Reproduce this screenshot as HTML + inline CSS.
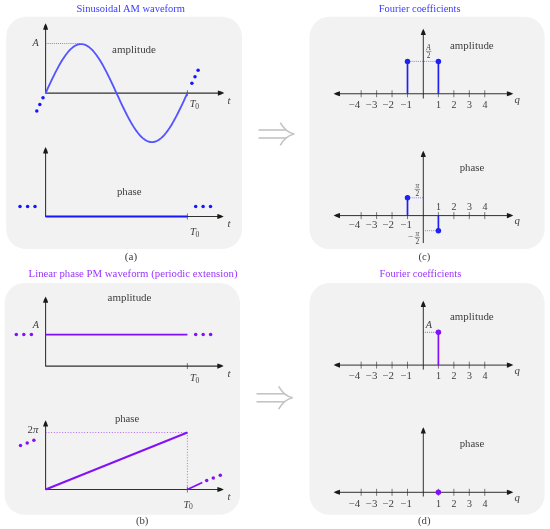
<!DOCTYPE html><html><head><meta charset="utf-8"><style>html,body{margin:0;padding:0;background:#fff}svg{display:block}</style></head><body><svg width="550" height="529" viewBox="0 0 550 529" font-family='"Liberation Serif", serif'><rect width="550" height="529" fill="#fff"/><rect x="6.2" y="16.8" width="235.8" height="232.3" rx="20" fill="#f2f2f2"/><rect x="309.5" y="16.8" width="235.2" height="232.3" rx="20" fill="#f2f2f2"/><rect x="4.6" y="283.1" width="235.4" height="231.7" rx="20" fill="#f2f2f2"/><rect x="309.5" y="283.1" width="235.2" height="231.7" rx="20" fill="#f2f2f2"/><text x="76.5" y="11.5" font-size="10.5" fill="#3a3aff" text-anchor="start"  textLength="108.5" lengthAdjust="spacingAndGlyphs" >Sinusoidal AM waveform</text><text x="378.7" y="11.5" font-size="10.5" fill="#3a3aff" text-anchor="start"  textLength="81.8" lengthAdjust="spacingAndGlyphs" >Fourier coefficients</text><text x="28.6" y="277.4" font-size="10.5" fill="#9933ff" text-anchor="start"  textLength="209" lengthAdjust="spacingAndGlyphs" >Linear phase PM waveform (periodic extension)</text><text x="379.5" y="277.4" font-size="10.5" fill="#9933ff" text-anchor="start"  textLength="81.8" lengthAdjust="spacingAndGlyphs" >Fourier coefficients</text><text x="124.8" y="260.3" font-size="10.3" fill="#404040" text-anchor="start"  textLength="12.3" lengthAdjust="spacingAndGlyphs" >(a)</text><text x="418.4" y="260.3" font-size="10.3" fill="#404040" text-anchor="start"  textLength="11.8" lengthAdjust="spacingAndGlyphs" >(c)</text><text x="135.9" y="524" font-size="10.3" fill="#404040" text-anchor="start"  textLength="12.5" lengthAdjust="spacingAndGlyphs" >(b)</text><text x="418" y="523.5" font-size="10.3" fill="#404040" text-anchor="start"  textLength="12.6" lengthAdjust="spacingAndGlyphs" >(d)</text><path d="M45.6,27.3 V93.1 H220.3" fill="none" stroke="#303030" stroke-width="1.05" stroke-linejoin="round"/><path d="M45.6,23.3 Q43.775000000000006,26.5 43.050000000000004,29.700000000000003 L48.15,29.700000000000003 Q47.425,26.5 45.6,23.3 Z" fill="#1a1a1a"/><path d="M224.3,93.1 Q221.10000000000002,91.27499999999999 217.9,90.55 L217.9,95.64999999999999 Q221.10000000000002,94.925 224.3,93.1 Z" fill="#1a1a1a"/><line x1="187.4" y1="90.1" x2="187.4" y2="96.1" stroke="#262626" stroke-width="0.6" /><path d="M45.60,93.10 L46.78,90.54 L47.96,87.98 L49.15,85.43 L50.33,82.91 L51.51,80.42 L52.69,77.96 L53.87,75.54 L55.05,73.17 L56.23,70.85 L57.42,68.60 L58.60,66.41 L59.78,64.30 L60.96,62.26 L62.14,60.31 L63.33,58.45 L64.51,56.69 L65.69,55.02 L66.87,53.46 L68.05,52.01 L69.23,50.66 L70.42,49.44 L71.60,48.34 L72.78,47.35 L73.96,46.50 L75.14,45.77 L76.32,45.17 L77.51,44.70 L78.69,44.37 L79.87,44.17 L81.05,44.10 L82.23,44.17 L83.41,44.37 L84.59,44.70 L85.78,45.17 L86.96,45.77 L88.14,46.50 L89.32,47.35 L90.50,48.34 L91.69,49.44 L92.87,50.66 L94.05,52.01 L95.23,53.46 L96.41,55.02 L97.59,56.69 L98.78,58.45 L99.96,60.31 L101.14,62.26 L102.32,64.30 L103.50,66.41 L104.68,68.60 L105.87,70.85 L107.05,73.17 L108.23,75.54 L109.41,77.96 L110.59,80.42 L111.77,82.91 L112.96,85.43 L114.14,87.98 L115.32,90.54 L116.50,93.10 L117.68,95.66 L118.86,98.22 L120.05,100.77 L121.23,103.29 L122.41,105.78 L123.59,108.24 L124.77,110.66 L125.95,113.03 L127.13,115.35 L128.32,117.60 L129.50,119.79 L130.68,121.90 L131.86,123.94 L133.04,125.89 L134.22,127.75 L135.41,129.51 L136.59,131.18 L137.77,132.74 L138.95,134.19 L140.13,135.54 L141.32,136.76 L142.50,137.86 L143.68,138.85 L144.86,139.70 L146.04,140.43 L147.22,141.03 L148.41,141.50 L149.59,141.83 L150.77,142.03 L151.95,142.10 L153.13,142.03 L154.31,141.83 L155.50,141.50 L156.68,141.03 L157.86,140.43 L159.04,139.70 L160.22,138.85 L161.40,137.86 L162.59,136.76 L163.77,135.54 L164.95,134.19 L166.13,132.74 L167.31,131.18 L168.49,129.51 L169.68,127.75 L170.86,125.89 L172.04,123.94 L173.22,121.90 L174.40,119.79 L175.58,117.60 L176.77,115.35 L177.95,113.03 L179.13,110.66 L180.31,108.24 L181.49,105.78 L182.67,103.29 L183.85,100.77 L185.04,98.22 L186.22,95.66 L187.40,93.10" fill="none" stroke="#5555ff" stroke-width="1.85" stroke-linejoin="round"/><line x1="45.6" y1="43.5" x2="80" y2="43.5" stroke="#5555ff" stroke-width="0.8" stroke-dasharray="0.9,1.18"/><circle cx="43" cy="97.8" r="1.75" fill="#1515ff"/><circle cx="39.8" cy="104.4" r="1.75" fill="#1515ff"/><circle cx="36.8" cy="111" r="1.75" fill="#1515ff"/><circle cx="191.9" cy="83.3" r="1.75" fill="#1515ff"/><circle cx="195" cy="76.8" r="1.75" fill="#1515ff"/><circle cx="198.1" cy="70.3" r="1.75" fill="#1515ff"/><text x="35.5" y="45.6" font-size="10.2" fill="#404040" text-anchor="middle" font-style="italic"  >A</text><text x="112.1" y="52.6" font-size="10.2" fill="#404040" text-anchor="start"  textLength="43.9" lengthAdjust="spacingAndGlyphs" >amplitude</text><text x="189.7" y="107.3" font-size="10.5" fill="#404040" font-style="italic">T<tspan font-size="7.6" dy="1.7" dx="-0.3" font-style="normal">0</tspan></text><text x="229" y="104.3" font-size="10.8" fill="#404040" text-anchor="middle" font-style="italic"  >t</text><path d="M45.6,151 V216.5 H219.7" fill="none" stroke="#303030" stroke-width="1.05" stroke-linejoin="round"/><path d="M45.6,147 Q43.775000000000006,150.2 43.050000000000004,153.4 L48.15,153.4 Q47.425,150.2 45.6,147 Z" fill="#1a1a1a"/><path d="M223.7,216.5 Q220.5,214.67499999999998 217.29999999999998,213.95 L217.29999999999998,219.05 Q220.5,218.32500000000002 223.7,216.5 Z" fill="#1a1a1a"/><line x1="187.4" y1="213.5" x2="187.4" y2="219.5" stroke="#262626" stroke-width="0.6" /><line x1="45.6" y1="216.5" x2="187.4" y2="216.5" stroke="#1515ff" stroke-width="1.9" /><circle cx="20" cy="206.6" r="1.75" fill="#1515ff"/><circle cx="27.6" cy="206.6" r="1.75" fill="#1515ff"/><circle cx="35" cy="206.6" r="1.75" fill="#1515ff"/><circle cx="195.7" cy="206.6" r="1.75" fill="#1515ff"/><circle cx="203.1" cy="206.6" r="1.75" fill="#1515ff"/><circle cx="210.5" cy="206.6" r="1.75" fill="#1515ff"/><text x="116.9" y="195.2" font-size="10.2" fill="#404040" text-anchor="start"  textLength="24.6" lengthAdjust="spacingAndGlyphs" >phase</text><text x="189.9" y="234.9" font-size="10.5" fill="#404040" font-style="italic">T<tspan font-size="7.6" dy="1.7" dx="-0.3" font-style="normal">0</tspan></text><text x="229" y="227.2" font-size="10.8" fill="#404040" text-anchor="middle" font-style="italic"  >t</text><path d="M45.6,300.4 V366.1 H219.7" fill="none" stroke="#303030" stroke-width="1.05" stroke-linejoin="round"/><path d="M45.6,296.4 Q43.775000000000006,299.59999999999997 43.050000000000004,302.79999999999995 L48.15,302.79999999999995 Q47.425,299.59999999999997 45.6,296.4 Z" fill="#1a1a1a"/><path d="M223.7,366.1 Q220.5,364.27500000000003 217.29999999999998,363.55 L217.29999999999998,368.65000000000003 Q220.5,367.925 223.7,366.1 Z" fill="#1a1a1a"/><line x1="187.4" y1="363.1" x2="187.4" y2="369.1" stroke="#262626" stroke-width="0.6" /><line x1="45.6" y1="334.6" x2="187.4" y2="334.6" stroke="#8210f8" stroke-width="1.9" /><circle cx="16.3" cy="334.6" r="1.75" fill="#8210f8"/><circle cx="23.8" cy="334.6" r="1.75" fill="#8210f8"/><circle cx="31.4" cy="334.6" r="1.75" fill="#8210f8"/><circle cx="195.7" cy="334.6" r="1.75" fill="#8210f8"/><circle cx="203.2" cy="334.6" r="1.75" fill="#8210f8"/><circle cx="210.6" cy="334.6" r="1.75" fill="#8210f8"/><text x="35.8" y="327.5" font-size="10.2" fill="#404040" text-anchor="middle" font-style="italic"  >A</text><text x="107.6" y="300.8" font-size="10.2" fill="#404040" text-anchor="start"  textLength="43.9" lengthAdjust="spacingAndGlyphs" >amplitude</text><text x="189.9" y="380.8" font-size="10.5" fill="#404040" font-style="italic">T<tspan font-size="7.6" dy="1.7" dx="-0.3" font-style="normal">0</tspan></text><text x="229" y="376.9" font-size="10.8" fill="#404040" text-anchor="middle" font-style="italic"  >t</text><path d="M45.6,424.2 V489.5 H219.8" fill="none" stroke="#303030" stroke-width="1.05" stroke-linejoin="round"/><path d="M45.6,420.2 Q43.775000000000006,423.4 43.050000000000004,426.59999999999997 L48.15,426.59999999999997 Q47.425,423.4 45.6,420.2 Z" fill="#1a1a1a"/><path d="M223.8,489.5 Q220.60000000000002,487.675 217.4,486.95 L217.4,492.05 Q220.60000000000002,491.325 223.8,489.5 Z" fill="#1a1a1a"/><line x1="187.4" y1="486.5" x2="187.4" y2="492.5" stroke="#262626" stroke-width="0.6" /><line x1="45.6" y1="432.5" x2="187.4" y2="432.5" stroke="#8210f8" stroke-width="0.8" stroke-dasharray="1,1.76" stroke-opacity="0.75"/><line x1="187.4" y1="432.5" x2="187.4" y2="489.5" stroke="#8210f8" stroke-width="0.8" stroke-dasharray="1,1.76" stroke-opacity="0.75"/><line x1="45.6" y1="489.5" x2="187.4" y2="432.5" stroke="#8210f8" stroke-width="1.9" /><line x1="187.4" y1="489.5" x2="202.3" y2="482.5" stroke="#8210f8" stroke-width="1.9" /><circle cx="206.7" cy="480.5" r="1.75" fill="#8210f8"/><circle cx="213.3" cy="478" r="1.75" fill="#8210f8"/><circle cx="220.3" cy="475.3" r="1.75" fill="#8210f8"/><circle cx="20.5" cy="445.6" r="1.75" fill="#8210f8"/><circle cx="27.2" cy="443" r="1.75" fill="#8210f8"/><circle cx="33.9" cy="440.2" r="1.75" fill="#8210f8"/><text x="27.6" y="432.6" font-size="10" fill="#404040" text-anchor="start"  textLength="10.8" lengthAdjust="spacingAndGlyphs" >2<tspan font-style="italic">π</tspan></text><text x="114.9" y="421.8" font-size="10.2" fill="#404040" text-anchor="start"  textLength="24.4" lengthAdjust="spacingAndGlyphs" >phase</text><text x="183.5" y="507.7" font-size="10.5" fill="#404040" font-style="italic">T<tspan font-size="7.6" dy="1.7" dx="-0.3" font-style="normal">0</tspan></text><text x="229" y="500.1" font-size="10.8" fill="#404040" text-anchor="middle" font-style="italic"  >t</text><line x1="337" y1="93.75" x2="509.5" y2="93.75" stroke="#262626" stroke-width="0.95" /><path d="M333.6,93.75 Q336.8,91.925 340.0,91.2 L340.0,96.3 Q336.8,95.575 333.6,93.75 Z" fill="#1a1a1a"/><path d="M513.3,93.75 Q510.09999999999997,91.925 506.9,91.2 L506.9,96.3 Q510.09999999999997,95.575 513.3,93.75 Z" fill="#1a1a1a"/><line x1="423.3" y1="98.5" x2="423.3" y2="32.7" stroke="#262626" stroke-width="0.95" /><path d="M423.3,28.7 Q421.475,31.9 420.75,35.1 L425.85,35.1 Q425.125,31.9 423.3,28.7 Z" fill="#1a1a1a"/><line x1="361.15" y1="90.25" x2="361.15" y2="97.25" stroke="#262626" stroke-width="0.6" /><text x="348.7" y="107.65" font-size="10" fill="#404040" text-anchor="start"  textLength="11.6" lengthAdjust="spacingAndGlyphs" >−4</text><line x1="376.6" y1="90.25" x2="376.6" y2="97.25" stroke="#262626" stroke-width="0.6" /><text x="365.8" y="107.65" font-size="10" fill="#404040" text-anchor="start"  textLength="11.6" lengthAdjust="spacingAndGlyphs" >−3</text><line x1="392.05" y1="90.25" x2="392.05" y2="97.25" stroke="#262626" stroke-width="0.6" /><text x="382.4" y="107.65" font-size="10" fill="#404040" text-anchor="start"  textLength="11.6" lengthAdjust="spacingAndGlyphs" >−2</text><line x1="407.5" y1="90.25" x2="407.5" y2="97.25" stroke="#262626" stroke-width="0.6" /><text x="400.4" y="107.65" font-size="10" fill="#404040" text-anchor="start"  textLength="11.6" lengthAdjust="spacingAndGlyphs" >−1</text><line x1="438.4" y1="90.25" x2="438.4" y2="97.25" stroke="#262626" stroke-width="0.6" /><text x="438.59999999999997" y="107.65" font-size="10" fill="#404040" text-anchor="middle"   >1</text><line x1="453.84999999999997" y1="90.25" x2="453.84999999999997" y2="97.25" stroke="#262626" stroke-width="0.6" /><text x="454.04999999999995" y="107.65" font-size="10" fill="#404040" text-anchor="middle"   >2</text><line x1="469.29999999999995" y1="90.25" x2="469.29999999999995" y2="97.25" stroke="#262626" stroke-width="0.6" /><text x="469.49999999999994" y="107.65" font-size="10" fill="#404040" text-anchor="middle"   >3</text><line x1="484.75" y1="90.25" x2="484.75" y2="97.25" stroke="#262626" stroke-width="0.6" /><text x="484.95" y="107.65" font-size="10" fill="#404040" text-anchor="middle"   >4</text><text x="517.3" y="102.55" font-size="10.8" fill="#404040" text-anchor="middle" font-style="italic"  >q</text><line x1="407.5" y1="61.4" x2="438.4" y2="61.4" stroke="#5555ff" stroke-width="0.8" stroke-dasharray="0.9,1.18"/><line x1="407.5" y1="93.75" x2="407.5" y2="61.4" stroke="#2020f2" stroke-width="1.7" /><circle cx="407.5" cy="61.4" r="2.75" fill="#2020f2"/><line x1="438.4" y1="93.75" x2="438.4" y2="61.4" stroke="#2020f2" stroke-width="1.7" /><circle cx="438.4" cy="61.4" r="2.75" fill="#2020f2"/><text x="428.6" y="49.900000000000006" font-size="7.3" fill="#404040" text-anchor="middle" font-style="italic"  >A</text><line x1="425.8" y1="51.400000000000006" x2="431.40000000000003" y2="51.400000000000006" stroke="#404040" stroke-width="0.5" /><text x="428.6" y="57.800000000000004" font-size="7.3" fill="#404040" text-anchor="middle"   >2</text><text x="450" y="49" font-size="10.2" fill="#404040" text-anchor="start"  textLength="43.7" lengthAdjust="spacingAndGlyphs" >amplitude</text><line x1="337" y1="215.6" x2="509.5" y2="215.6" stroke="#262626" stroke-width="0.95" /><path d="M333.6,215.6 Q336.8,213.77499999999998 340.0,213.04999999999998 L340.0,218.15 Q336.8,217.425 333.6,215.6 Z" fill="#1a1a1a"/><path d="M513.3,215.6 Q510.09999999999997,213.77499999999998 506.9,213.04999999999998 L506.9,218.15 Q510.09999999999997,217.425 513.3,215.6 Z" fill="#1a1a1a"/><line x1="423.3" y1="243" x2="423.3" y2="154.7" stroke="#262626" stroke-width="0.95" /><path d="M423.3,150.7 Q421.475,153.89999999999998 420.75,157.1 L425.85,157.1 Q425.125,153.89999999999998 423.3,150.7 Z" fill="#1a1a1a"/><line x1="361.15" y1="212.1" x2="361.15" y2="219.1" stroke="#262626" stroke-width="0.6" /><text x="348.7" y="227.9" font-size="10" fill="#404040" text-anchor="start"  textLength="11.6" lengthAdjust="spacingAndGlyphs" >−4</text><line x1="376.6" y1="212.1" x2="376.6" y2="219.1" stroke="#262626" stroke-width="0.6" /><text x="365.8" y="227.9" font-size="10" fill="#404040" text-anchor="start"  textLength="11.6" lengthAdjust="spacingAndGlyphs" >−3</text><line x1="392.05" y1="212.1" x2="392.05" y2="219.1" stroke="#262626" stroke-width="0.6" /><text x="382.4" y="227.9" font-size="10" fill="#404040" text-anchor="start"  textLength="11.6" lengthAdjust="spacingAndGlyphs" >−2</text><line x1="407.5" y1="212.1" x2="407.5" y2="219.1" stroke="#262626" stroke-width="0.6" /><text x="400.4" y="227.9" font-size="10" fill="#404040" text-anchor="start"  textLength="11.6" lengthAdjust="spacingAndGlyphs" >−1</text><line x1="438.4" y1="212.1" x2="438.4" y2="219.1" stroke="#262626" stroke-width="0.6" /><text x="438.59999999999997" y="210.0" font-size="10" fill="#404040" text-anchor="middle"   >1</text><line x1="453.84999999999997" y1="212.1" x2="453.84999999999997" y2="219.1" stroke="#262626" stroke-width="0.6" /><text x="454.04999999999995" y="210.0" font-size="10" fill="#404040" text-anchor="middle"   >2</text><line x1="469.29999999999995" y1="212.1" x2="469.29999999999995" y2="219.1" stroke="#262626" stroke-width="0.6" /><text x="469.49999999999994" y="210.0" font-size="10" fill="#404040" text-anchor="middle"   >3</text><line x1="484.75" y1="212.1" x2="484.75" y2="219.1" stroke="#262626" stroke-width="0.6" /><text x="484.95" y="210.0" font-size="10" fill="#404040" text-anchor="middle"   >4</text><text x="517.3" y="224.4" font-size="10.8" fill="#404040" text-anchor="middle" font-style="italic"  >q</text><line x1="407.5" y1="197.8" x2="422.95" y2="197.8" stroke="#5555ff" stroke-width="0.8" stroke-dasharray="0.9,1.18"/><line x1="422.95" y1="230.7" x2="438.4" y2="230.7" stroke="#5555ff" stroke-width="0.8" stroke-dasharray="0.9,1.18"/><line x1="407.5" y1="215.6" x2="407.5" y2="197.8" stroke="#2020f2" stroke-width="1.7" /><circle cx="407.5" cy="197.8" r="2.75" fill="#2020f2"/><line x1="438.4" y1="215.6" x2="438.4" y2="230.7" stroke="#2020f2" stroke-width="1.7" /><circle cx="438.4" cy="230.7" r="2.75" fill="#2020f2"/><text x="417.3" y="187.89999999999998" font-size="7.3" fill="#404040" text-anchor="middle" font-style="italic"  >π</text><line x1="414.5" y1="189.39999999999998" x2="420.1" y2="189.39999999999998" stroke="#404040" stroke-width="0.5" /><text x="417.3" y="195.79999999999998" font-size="7.3" fill="#404040" text-anchor="middle"   >2</text><text x="417.3" y="235.89999999999998" font-size="7.3" fill="#404040" text-anchor="middle" font-style="italic"  >π</text><line x1="414.5" y1="237.39999999999998" x2="420.1" y2="237.39999999999998" stroke="#404040" stroke-width="0.5" /><text x="417.3" y="243.79999999999998" font-size="7.3" fill="#404040" text-anchor="middle"   >2</text><text x="408" y="239.2" font-size="8" fill="#404040" text-anchor="start"  textLength="5.4" lengthAdjust="spacingAndGlyphs" >−</text><text x="459.7" y="171" font-size="10.2" fill="#404040" text-anchor="start"  textLength="24.6" lengthAdjust="spacingAndGlyphs" >phase</text><line x1="337" y1="365.1" x2="509.5" y2="365.1" stroke="#262626" stroke-width="0.95" /><path d="M333.6,365.1 Q336.8,363.27500000000003 340.0,362.55 L340.0,367.65000000000003 Q336.8,366.925 333.6,365.1 Z" fill="#1a1a1a"/><path d="M513.3,365.1 Q510.09999999999997,363.27500000000003 506.9,362.55 L506.9,367.65000000000003 Q510.09999999999997,366.925 513.3,365.1 Z" fill="#1a1a1a"/><line x1="423.3" y1="369.6" x2="423.3" y2="304.7" stroke="#262626" stroke-width="0.95" /><path d="M423.3,300.7 Q421.475,303.9 420.75,307.09999999999997 L425.85,307.09999999999997 Q425.125,303.9 423.3,300.7 Z" fill="#1a1a1a"/><line x1="361.15" y1="361.6" x2="361.15" y2="368.6" stroke="#262626" stroke-width="0.6" /><text x="348.7" y="379.0" font-size="10" fill="#404040" text-anchor="start"  textLength="11.6" lengthAdjust="spacingAndGlyphs" >−4</text><line x1="376.6" y1="361.6" x2="376.6" y2="368.6" stroke="#262626" stroke-width="0.6" /><text x="365.8" y="379.0" font-size="10" fill="#404040" text-anchor="start"  textLength="11.6" lengthAdjust="spacingAndGlyphs" >−3</text><line x1="392.05" y1="361.6" x2="392.05" y2="368.6" stroke="#262626" stroke-width="0.6" /><text x="382.4" y="379.0" font-size="10" fill="#404040" text-anchor="start"  textLength="11.6" lengthAdjust="spacingAndGlyphs" >−2</text><line x1="407.5" y1="361.6" x2="407.5" y2="368.6" stroke="#262626" stroke-width="0.6" /><text x="400.4" y="379.0" font-size="10" fill="#404040" text-anchor="start"  textLength="11.6" lengthAdjust="spacingAndGlyphs" >−1</text><line x1="438.4" y1="361.6" x2="438.4" y2="368.6" stroke="#262626" stroke-width="0.6" /><text x="438.59999999999997" y="379.0" font-size="10" fill="#404040" text-anchor="middle"   >1</text><line x1="453.84999999999997" y1="361.6" x2="453.84999999999997" y2="368.6" stroke="#262626" stroke-width="0.6" /><text x="454.04999999999995" y="379.0" font-size="10" fill="#404040" text-anchor="middle"   >2</text><line x1="469.29999999999995" y1="361.6" x2="469.29999999999995" y2="368.6" stroke="#262626" stroke-width="0.6" /><text x="469.49999999999994" y="379.0" font-size="10" fill="#404040" text-anchor="middle"   >3</text><line x1="484.75" y1="361.6" x2="484.75" y2="368.6" stroke="#262626" stroke-width="0.6" /><text x="484.95" y="379.0" font-size="10" fill="#404040" text-anchor="middle"   >4</text><text x="517.3" y="373.90000000000003" font-size="10.8" fill="#404040" text-anchor="middle" font-style="italic"  >q</text><line x1="422.95" y1="332.3" x2="438.4" y2="332.3" stroke="#8210f8" stroke-width="0.8" stroke-dasharray="0.9,1.18"/><line x1="438.4" y1="365.1" x2="438.4" y2="332.3" stroke="#8210f8" stroke-width="1.7" /><circle cx="438.4" cy="332.3" r="2.75" fill="#8210f8"/><text x="428.8" y="327.8" font-size="10.2" fill="#404040" text-anchor="middle" font-style="italic"  >A</text><text x="450" y="319.9" font-size="10.2" fill="#404040" text-anchor="start"  textLength="43.7" lengthAdjust="spacingAndGlyphs" >amplitude</text><line x1="337" y1="492.3" x2="509.5" y2="492.3" stroke="#262626" stroke-width="0.95" /><path d="M333.6,492.3 Q336.8,490.475 340.0,489.75 L340.0,494.85 Q336.8,494.125 333.6,492.3 Z" fill="#1a1a1a"/><path d="M513.3,492.3 Q510.09999999999997,490.475 506.9,489.75 L506.9,494.85 Q510.09999999999997,494.125 513.3,492.3 Z" fill="#1a1a1a"/><line x1="423.3" y1="496.5" x2="423.3" y2="431.2" stroke="#262626" stroke-width="0.95" /><path d="M423.3,427.2 Q421.475,430.4 420.75,433.59999999999997 L425.85,433.59999999999997 Q425.125,430.4 423.3,427.2 Z" fill="#1a1a1a"/><line x1="361.15" y1="488.8" x2="361.15" y2="495.8" stroke="#262626" stroke-width="0.6" /><text x="348.7" y="506.6" font-size="10" fill="#404040" text-anchor="start"  textLength="11.6" lengthAdjust="spacingAndGlyphs" >−4</text><line x1="376.6" y1="488.8" x2="376.6" y2="495.8" stroke="#262626" stroke-width="0.6" /><text x="365.8" y="506.6" font-size="10" fill="#404040" text-anchor="start"  textLength="11.6" lengthAdjust="spacingAndGlyphs" >−3</text><line x1="392.05" y1="488.8" x2="392.05" y2="495.8" stroke="#262626" stroke-width="0.6" /><text x="382.4" y="506.6" font-size="10" fill="#404040" text-anchor="start"  textLength="11.6" lengthAdjust="spacingAndGlyphs" >−2</text><line x1="407.5" y1="488.8" x2="407.5" y2="495.8" stroke="#262626" stroke-width="0.6" /><text x="400.4" y="506.6" font-size="10" fill="#404040" text-anchor="start"  textLength="11.6" lengthAdjust="spacingAndGlyphs" >−1</text><line x1="438.4" y1="488.8" x2="438.4" y2="495.8" stroke="#262626" stroke-width="0.6" /><text x="438.59999999999997" y="506.6" font-size="10" fill="#404040" text-anchor="middle"   >1</text><line x1="453.84999999999997" y1="488.8" x2="453.84999999999997" y2="495.8" stroke="#262626" stroke-width="0.6" /><text x="454.04999999999995" y="506.6" font-size="10" fill="#404040" text-anchor="middle"   >2</text><line x1="469.29999999999995" y1="488.8" x2="469.29999999999995" y2="495.8" stroke="#262626" stroke-width="0.6" /><text x="469.49999999999994" y="506.6" font-size="10" fill="#404040" text-anchor="middle"   >3</text><line x1="484.75" y1="488.8" x2="484.75" y2="495.8" stroke="#262626" stroke-width="0.6" /><text x="484.95" y="506.6" font-size="10" fill="#404040" text-anchor="middle"   >4</text><text x="517.3" y="501.1" font-size="10.8" fill="#404040" text-anchor="middle" font-style="italic"  >q</text><circle cx="438.4" cy="492.3" r="2.75" fill="#8210f8"/><text x="459.7" y="447" font-size="10.2" fill="#404040" text-anchor="start"  textLength="24.6" lengthAdjust="spacingAndGlyphs" >phase</text><g fill="none" stroke="#c4c4c4" stroke-width="1.6" stroke-linecap="butt"><path d="M258.5,130 H286.3"/><path d="M258.5,138 H286.3"/><path d="M280.3,122.6 C284.3,130 289.3,133 294.3,134 C289.3,135 284.3,138 280.3,145.4"/></g><g fill="none" stroke="#c4c4c4" stroke-width="1.6" stroke-linecap="butt"><path d="M256.5,393.8 H284.7"/><path d="M256.5,401.8 H284.7"/><path d="M278.7,386.40000000000003 C282.7,393.8 287.7,396.8 292.7,397.8 C287.7,398.8 282.7,401.8 278.7,409.2"/></g></svg></body></html>
